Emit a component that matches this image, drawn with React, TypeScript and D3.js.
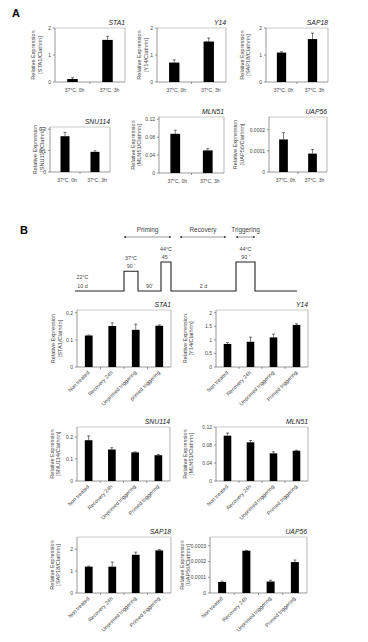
import React from 'react';
import * as d3 from 'd3';

const FONT = '"Liberation Sans", Arial, Helvetica, sans-serif';

// ---- panel A: 37°C 0h vs 3h
const aCategories = ['37°C, 0h', '37°C, 3h'];
const aSTA1 = [0.11, 1.56];
const aSTA1Err = [0.05, 0.13];
const aY14 = [0.72, 1.5];
const aY14Err = [0.1, 0.13];
const aSAP18 = [1.09, 1.59];
const aSAP18Err = [0.03, 0.22];
const aSNU114 = [0.167, 0.094];
const aSNU114Err = [0.018, 0.005];
const aMLN51 = [0.0875, 0.0504];
const aMLN51Err = [0.008, 0.004];
const aUAP56 = [0.000154, 0.000087];
const aUAP56Err = [0.000032, 0.000019];

// ---- panel B: priming / triggering
const bCategories = ['Non treated', 'Recovery 24h', 'Unprimed triggering', 'Primed triggering'];
const bCategoriesSTA1 = ['Non treated', 'Recovery 24h', 'Unprimed triggering', 'primed triggering'];
const bSTA1 = [0.116, 0.151, 0.137, 0.152];
const bSTA1Err = [0.002, 0.012, 0.021, 0.003];
const bY14 = [0.85, 0.93, 1.09, 1.55];
const bY14Err = [0.05, 0.17, 0.12, 0.04];
const bSNU114 = [0.185, 0.143, 0.13, 0.117];
const bSNU114Err = [0.02, 0.008, 0.002, 0.003];
const bMLN51 = [0.1007, 0.086, 0.0615, 0.0673];
const bMLN51Err = [0.006, 0.004, 0.0035, 0.001];
const bSAP18 = [1.2, 1.2, 1.74, 1.94];
const bSAP18Err = [0.03, 0.21, 0.12, 0.04];
const bUAP56 = [0.00007, 0.000268, 0.000073, 0.000196];
const bUAP56Err = [0.000005, 0.000002, 0.000008, 0.000013];

// ---- tick labels
const ticks012 = [0, 1, 2];
const ticksSNU = [0, 0.1, 0.2];
const ticksMLN = [0, 0.04, 0.08, 0.12];
const ticksUAPa = [0, 0.0001, 0.0002];
const ticksUAPb = [0, 0.0001, 0.0002, 0.0003];
const ticksSTA1b = [0, 0.1, 0.2];
const ticksY14b = [0, 0.5, 1, 1.5, 2];

// ---- timeline (schematic widths, temperature levels)
const tlWidths = [49, 14, 23, 10, 65, 19, 42];
const tlTemps = [22, 37, 22, 44, 22, 44, 22];
const tlTempLabels = ['22°C', '37°C', '', '44°C', '', '44°C', ''];
const tlDurLabels = ['10 d', "90 '", "90'", "45 '", '2 d', "90 '", ''];
const phases = ['Priming', 'Recovery', 'Triggering'];

type Layout = { x0: number; x1: number; y0: number; y1: number; l1: number; l2: number };

function BarChart(props: {
  L: Layout;
  gene: string;
  cats: string[];
  values: number[];
  errs: number[];
  ticks: number[];
  yMax: number;
  rotated?: boolean;
  barFrac?: number;
}) {
  const { L, gene, cats, values, errs, ticks, yMax, rotated } = props;
  const barFrac = props.barFrac ?? 0.3;
  const x = d3.scaleBand<string>().domain(cats).range([L.x0, L.x1]);
  const y = d3.scaleLinear().domain([0, yMax]).range([L.y1, L.y0]);
  const bw = x.step() * barFrac;
  const cy = (L.y0 + L.y1) / 2;
  const fs = 5;
  return (
    <g fontFamily={FONT}>
      {/* frame */}
      <line x1={L.x0} x2={L.x1} y1={L.y0} y2={L.y0} stroke="#aaa" strokeWidth={0.6} />
      <line x1={L.x1} x2={L.x1} y1={L.y0} y2={L.y1} stroke="#888" strokeWidth={0.6} />
      <line x1={L.x0} x2={L.x0} y1={L.y0} y2={L.y1} stroke="#555" strokeWidth={0.6} />
      <line x1={L.x0} x2={L.x1} y1={L.y1} y2={L.y1} stroke="#555" strokeWidth={0.6} />
      {/* y ticks */}
      {ticks.map((t) => (
        <g key={t}>
          <line x1={L.x0 - 2} x2={L.x0} y1={y(t)} y2={y(t)} stroke="#555" strokeWidth={0.6} />
          <text x={L.x0 - 4} y={y(t)} fontSize={fs} textAnchor="end" dominantBaseline="central" fill="#444">
            {String(t)}
          </text>
        </g>
      ))}
      {/* x ticks between categories */}
      {cats.slice(1).map((c) => (
        <line key={c} x1={x(c)!} x2={x(c)!} y1={L.y1} y2={L.y1 + 2} stroke="#555" strokeWidth={0.6} />
      ))}
      {/* bars */}
      {cats.map((c, i) => {
        const cx = x(c)! + x.bandwidth() / 2;
        return (
          <g key={c}>
            <rect x={cx - bw / 2} y={y(values[i])} width={bw} height={L.y1 - y(values[i])} fill="#000" />
            <line x1={cx} x2={cx} y1={y(values[i])} y2={y(values[i] + errs[i])} stroke="#222" strokeWidth={0.6} />
            <line x1={cx - 1.5} x2={cx + 1.5} y1={y(values[i] + errs[i])} y2={y(values[i] + errs[i])} stroke="#222" strokeWidth={0.6} />
            {rotated ? (
              <text
                transform={`translate(${cx + 1},${L.y1 + 6}) rotate(-45)`}
                fontSize={5.3}
                textAnchor="end"
                fill="#444"
              >
                {c}
              </text>
            ) : (
              <text x={cx + 2} y={L.y1 + 10} fontSize={fs} textAnchor="middle" fill="#444">
                {c}
              </text>
            )}
          </g>
        );
      })}
      {/* title */}
      <text x={L.x1} y={L.y0 - 3} fontSize={6.8} textAnchor="end" fontStyle="italic" fill="#222">
        {gene}
      </text>
      {/* y label */}
      <text transform={`translate(${L.l1},${cy}) rotate(-90)`} fontSize={5.6} textAnchor="middle" dominantBaseline="central" fill="#444">
        Relative Expression
      </text>
      <text transform={`translate(${L.l2},${cy}) rotate(-90)`} fontSize={5.6} textAnchor="middle" dominantBaseline="central" fill="#444">
        {`[${gene}/Clathrin]`}
      </text>
    </g>
  );
}

function Timeline() {
  const total = d3.sum(tlWidths);
  const x = d3.scaleLinear().domain([0, total]).range([75, 297]);
  const y = d3.scaleLinear().domain([22, 44]).range([291, 262]);
  const starts = tlWidths.map((_, i) => d3.sum(tlWidths.slice(0, i)));
  const pts: [number, number][] = [];
  tlWidths.forEach((w, i) => {
    pts.push([x(starts[i]), y(tlTemps[i])]);
    pts.push([x(starts[i] + w), y(tlTemps[i])]);
  });
  const line = d3.line();
  // phase spans in segment units
  const phaseSpans: [number, number][] = [
    [x(starts[1]), x(starts[3] + tlWidths[3])],
    [x(starts[4]) + 9, x(starts[5]) - 10],
    [x(starts[5]), x(starts[5] + tlWidths[5])],
  ];
  return (
    <g fontFamily={FONT} fill="#333">
      <defs>
        <marker id="ah" viewBox="0 0 6 6" refX="5" refY="3" markerWidth="4" markerHeight="4" orient="auto-start-reverse">
          <path d="M0,0 L6,3 L0,6 z" fill="#444" />
        </marker>
      </defs>
      <path d={line(pts) || ''} fill="none" stroke="#222" strokeWidth={1.1} />
      {phases.map((p, i) => (
        <g key={p}>
          <text x={(phaseSpans[i][0] + phaseSpans[i][1]) / 2} y={232} fontSize={6.4} textAnchor="middle" fill="#444">
            {p}
          </text>
          <line
            x1={phaseSpans[i][0]}
            x2={phaseSpans[i][1]}
            y1={237}
            y2={237}
            stroke="#555"
            strokeWidth={0.6}
            markerStart="url(#ah)"
            markerEnd="url(#ah)"
          />
        </g>
      ))}
      {tlWidths.map((w, i) => {
        const isPulse = tlTemps[i] > 22;
        const cx = i === 0 ? x(starts[i]) + 7.5 : x(starts[i] + w / 2);
        if (isPulse) {
          const top = y(tlTemps[i]);
          return (
            <g key={i}>
              <text x={cx} y={top - 11} fontSize={5.3} textAnchor="middle" fill="#444">{tlTempLabels[i]}</text>
              <text x={cx} y={top - 3.5} fontSize={5.3} textAnchor="middle" fill="#444">{tlDurLabels[i]}</text>
            </g>
          );
        }
        return (
          <g key={i}>
            {tlTempLabels[i] && (
              <text x={cx} y={279} fontSize={5.3} textAnchor="middle" fill="#444">{tlTempLabels[i]}</text>
            )}
            {tlDurLabels[i] && (
              <text x={cx} y={287.5} fontSize={5.3} textAnchor="middle" fill="#444">{tlDurLabels[i]}</text>
            )}
          </g>
        );
      })}
    </g>
  );
}

export default function App() {
  return (
    <svg width={368} height={642} style={{ position: 'absolute', left: 0, top: 0, background: '#fff' }}>
      <rect width={368} height={642} fill="#fff" />
      <text x={12} y={17} fontFamily={FONT} fontWeight="bold" fontSize={11}>A</text>
      <text x={20} y={234} fontFamily={FONT} fontWeight="bold" fontSize={11}>B</text>

      <BarChart L={{ x0: 55, x1: 125, y0: 28, y1: 82, l1: 33, l2: 40 }} gene="STA1" cats={aCategories} values={aSTA1} errs={aSTA1Err} ticks={ticks012} yMax={2} />
      <BarChart L={{ x0: 157, x1: 226, y0: 28, y1: 82, l1: 139, l2: 146 }} gene="Y14" cats={aCategories} values={aY14} errs={aY14Err} ticks={ticks012} yMax={2} />
      <BarChart L={{ x0: 266, x1: 328, y0: 28, y1: 82, l1: 242, l2: 248 }} gene="SAP18" cats={aCategories} values={aSAP18} errs={aSAP18Err} ticks={ticks012} yMax={2} />
      <BarChart L={{ x0: 50, x1: 110, y0: 127, y1: 172, l1: 35, l2: 42 }} gene="SNU114" cats={aCategories} values={aSNU114} errs={aSNU114Err} ticks={ticksSNU} yMax={0.21} />
      <BarChart L={{ x0: 159, x1: 224, y0: 117, y1: 173, l1: 133, l2: 139 }} gene="MLN51" cats={aCategories} values={aMLN51} errs={aMLN51Err} ticks={ticksMLN} yMax={0.125} />
      <BarChart L={{ x0: 269, x1: 327, y0: 117, y1: 172, l1: 235, l2: 242 }} gene="UAP56" cats={aCategories} values={aUAP56} errs={aUAP56Err} ticks={ticksUAPa} yMax={0.00026} />

      <Timeline />

      <BarChart L={{ x0: 77, x1: 171, y0: 310, y1: 367, l1: 53, l2: 60 }} gene="STA1" cats={bCategoriesSTA1} values={bSTA1} errs={bSTA1Err} ticks={ticksSTA1b} yMax={0.21} rotated barFrac={0.33} />
      <BarChart L={{ x0: 216, x1: 308, y0: 310, y1: 367, l1: 185, l2: 191 }} gene="Y14" cats={bCategories} values={bY14} errs={bY14Err} ticks={ticksY14b} yMax={2.1} rotated barFrac={0.33} />
      <BarChart L={{ x0: 77, x1: 170, y0: 427, y1: 481, l1: 52, l2: 58 }} gene="SNU114" cats={bCategories} values={bSNU114} errs={bSNU114Err} ticks={ticksSNU} yMax={0.245} rotated barFrac={0.33} />
      <BarChart L={{ x0: 216, x1: 308, y0: 427, y1: 481, l1: 185, l2: 191 }} gene="MLN51" cats={bCategories} values={bMLN51} errs={bMLN51Err} ticks={ticksMLN} yMax={0.12} rotated barFrac={0.33} />
      <BarChart L={{ x0: 77, x1: 171, y0: 537, y1: 593, l1: 52, l2: 58 }} gene="SAP18" cats={bCategories} values={bSAP18} errs={bSAP18Err} ticks={ticks012} yMax={2.55} rotated barFrac={0.33} />
      <BarChart L={{ x0: 210, x1: 307, y0: 537, y1: 593, l1: 182, l2: 188 }} gene="UAP56" cats={bCategories} values={bUAP56} errs={bUAP56Err} ticks={ticksUAPb} yMax={0.000355} rotated barFrac={0.33} />
    </svg>
  );
}
